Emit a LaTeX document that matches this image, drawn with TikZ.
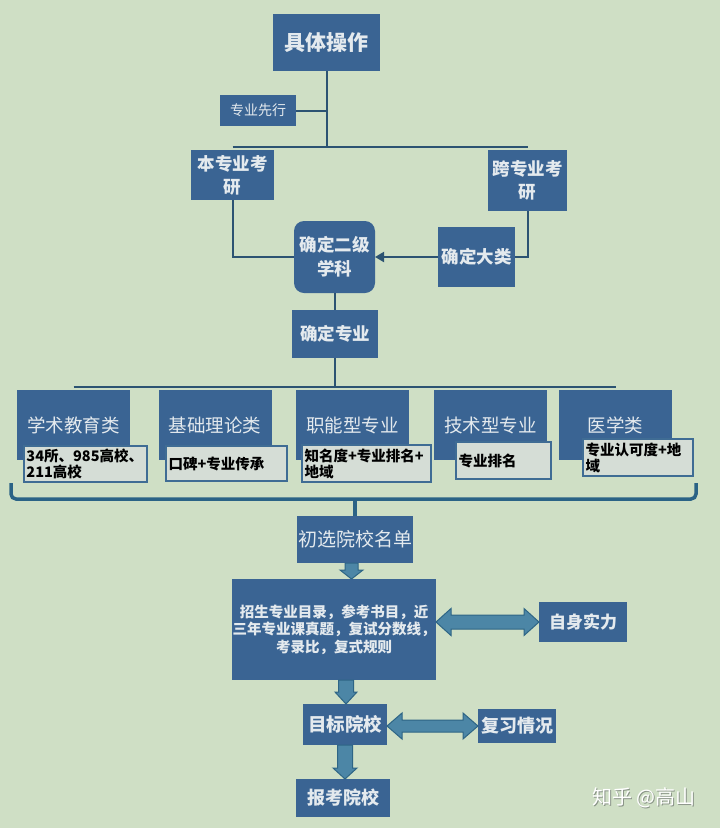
\documentclass[tikz,border=0pt]{standalone}
\usepackage{fontspec}
\setmainfont{Noto Sans CJK SC}
\usetikzlibrary{arrows.meta,calc}
\definecolor{bgc}{HTML}{CFDFC5}
\definecolor{boxc}{HTML}{3A6493}
\definecolor{txtc}{HTML}{E4EAEE}
\definecolor{linec}{HTML}{2C5372}
\definecolor{subfill}{HTML}{D5DDD6}
\definecolor{subedge}{HTML}{3F6C94}
\definecolor{arrfill}{HTML}{4C86A6}
\definecolor{arredge}{HTML}{2E6585}
\definecolor{bracec}{HTML}{2B6386}
\definecolor{wmshadow}{HTML}{8A9488}
\newcommand\fs[2]{\fontsize{#1}{#2}\selectfont}
% vertical block arrow: top, bottom, shaft half width, head half width, head length
\newcommand\dnblock[5]{%
  \filldraw[blockarrow] let \p1=#1, \p2=#2 in
    (\x1-#3pt,\y1) -- (\x1+#3pt,\y1) -- (\x1+#3pt,\y2+#5pt) -- (\x1+#4pt,\y2+#5pt)
    -- (\x1,\y2) -- (\x1-#4pt,\y2+#5pt) -- (\x1-#3pt,\y2+#5pt) -- cycle;}
% horizontal double block arrow: left, right, shaft half height, head half height, head length
\newcommand\hdbl[5]{%
  \filldraw[blockarrow] let \p1=#1, \p2=#2 in
    (\x1,\y2) -- (\x1+#5pt,\y2+#4pt) -- (\x1+#5pt,\y2+#3pt) -- (\x2-#5pt,\y2+#3pt)
    -- (\x2-#5pt,\y2+#4pt) -- (\x2,\y2) -- (\x2-#5pt,\y2-#4pt) -- (\x2-#5pt,\y2-#3pt)
    -- (\x1+#5pt,\y2-#3pt) -- (\x1+#5pt,\y2-#4pt) -- cycle;}
\begin{document}
\begin{tikzpicture}[x=1pt,y=-1pt,
  box/.style={fill=boxc, draw=none, text=txtc, inner sep=0pt, outer sep=0pt, align=center},
  subbox/.style={fill=subfill, draw=subedge, line width=1.2pt, text=black, inner xsep=2.5pt,
    inner ysep=0pt, outer sep=0pt, align=left, font=\bfseries\fs{14.5}{16}},
  conn/.style={draw=linec, line width=2pt},
  catbox/.style={box, minimum width=113, minimum height=70, font=\fs{18.5}{22}},
  blockarrow/.style={fill=arrfill, draw=arredge, line width=1pt, line join=miter},
  bracestyle/.style={draw=bracec, line width=3.5pt}]
\fill[bgc] (0,0) rectangle (720,828);
\useasboundingbox (0,0) rectangle (720,828);

% top part
\node[box, minimum width=107, minimum height=57, font=\bfseries\fs{21}{25}] (top) at (326.5,42.5) {具体操作};
\node[box, minimum width=76, minimum height=31, font=\fs{14}{17}] (zyxx) at (258,110.5) {专业先行};
\node[box, minimum width=83, minimum height=50, font=\bfseries\fs{17.5}{23}] (ben) at (232.5,175) {本专业考\\研};
\node[box, minimum width=79, minimum height=61, font=\bfseries\fs{17.5}{23}] (kua) at (527.5,180.5) {跨专业考\\研};
\node[box, rounded corners=10pt, minimum width=81, minimum height=72, font=\bfseries\fs{17.5}{24}] (erji) at (334.5,257) {确定二级\\学科};
\node[box, minimum width=77, minimum height=60, font=\bfseries\fs{17.5}{21}] (dalei) at (476.5,257) {确定大类};
\node[box, minimum width=86, minimum height=48, font=\bfseries\fs{17.5}{21}] (zy) at (335,334) {确定专业};

\coordinate (j1) at (326.5,147);
\coordinate (hl) at (232.5,147);
\coordinate (hr) at (527.5,147);
\draw[conn] (top.south) -- (j1);
\draw[conn] (hl) -- (hr);
\draw[conn] (zyxx.east) -- (zyxx.east -| j1);
\draw[conn] (ben.south) |- (erji.west);
\draw[conn] (kua.south) |- (dalei.east);
\draw[conn, -{Triangle[length=9pt,width=10pt]}] (dalei.west) -- (erji.east);
\draw[conn] (erji.south) -- (erji.south |- zy.north);

% categories
\node[catbox] (c1) at (73.5,425) {学术教育类};
\node[catbox] (c2) at (215,425) {基础理论类};
\node[catbox] (c3) at (352.5,425) {职能型专业};
\node[catbox] (c4) at (490.5,425) {技术型专业};
\node[catbox] (c5) at (615.5,425) {医学类};
\coordinate (catline) at (0,387);
\draw[conn, line width=1.8pt] (c1.north |- catline) -- (c5.north |- catline);
\draw[conn] (zy.south) -- (zy.south |- catline);

\node[subbox, text width=118, minimum height=36] (s1) at (85.5,464) {34所、985高校、\\211高校};
\node[subbox, text width=116, minimum height=35] (s2) at (226.5,463.5) {口碑+专业传承};
\node[subbox, text width=124, minimum height=37] (s3) at (366.5,463.5) {知名度+专业排名+\\地域};
\node[subbox, text width=90, minimum height=37] (s4) at (503.5,460.5) {专业排名};
\node[subbox, text width=105, minimum height=37] (s5) at (638,457.5) {专业认可度+地\\域};

% brace
\node[box, minimum width=116, minimum height=47, font=\fs{19}{22}] (chuxuan) at (355,539.5) {初选院校名单};
\coordinate (braceline) at (354,499);
\draw[bracestyle, rounded corners=5pt] (11,483) -- (11,499) -- (696,499) -- (696,483);
\draw[bracestyle] (chuxuan.north) -- (chuxuan.north |- braceline);

% lower part
\node[box, minimum width=204, minimum height=101, font=\bfseries\fs{14.5}{17.5}] (big) at (334,629.5) {招生专业目录，参考书目，近\\三年专业课真题，复试分数线，\\考录比，复式规则};
\node[box, minimum width=88, minimum height=40, font=\bfseries\fs{17}{20}] (ziji) at (583,622) {自身实力};
\node[box, minimum width=84, minimum height=41, font=\bfseries\fs{18.5}{22}] (mubiao) at (345,724.5) {目标院校};
\node[box, minimum width=78, minimum height=34, font=\bfseries\fs{18}{21}] (fuxi) at (517,726) {复习情况};
\node[box, minimum width=94, minimum height=38, font=\bfseries\fs{18}{21}] (baokao) at (343,798) {报考院校};

\dnblock{($(chuxuan.south)+(-3.5,0)$)}{(big.north)}{6.5}{11.5}{9}
\dnblock{($(big.south)+(12,0)$)}{(mubiao.north)}{7.5}{11}{12}
\dnblock{(mubiao.south)}{(baokao.north)}{7.5}{12}{11}
\hdbl{(big.east)}{(ziji.west)}{7}{13.5}{15}
\hdbl{(mubiao.east)}{(fuxi.west)}{6}{13}{15}

% watermark
\node[text=wmshadow, font=\fs{20}{24}] (wms) at (645,799) {知乎 @高山};
\node[text=white, font=\fs{20}{24}] (wm) at (644,798) {知乎 @高山};
\end{tikzpicture}
\end{document}
